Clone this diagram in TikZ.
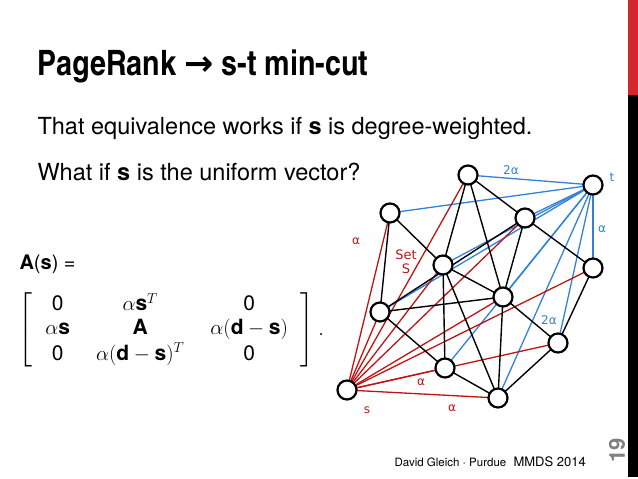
\documentclass[tikz,border=0pt]{standalone}
\usepackage{amsmath}
\usepackage{fontspec}
\setmainfont{TeX Gyre Heros}
\newfontfamily\titlefont{TeX Gyre Heros Cn}
\newfontfamily\dejavu{DejaVu Sans}
\begin{document}
\begin{tikzpicture}[x=1pt,y=-1pt,
  vtx/.style={circle,draw=black,line width=2.2pt,fill=white,minimum size=19pt,inner sep=0pt},
  bl/.style={black,line width=1.4pt},
  bu/.style={color={rgb,255:red,50;green,130;blue,220},line width=1.3pt},
  rd/.style={color={rgb,255:red,190;green,20;blue,20},line width=1.3pt},
  lbu/.style={text={rgb,255:red,50;green,130;blue,220},font=\fontsize{12}{12}\dejavu},
  lrd/.style={text={rgb,255:red,190;green,20;blue,20},font=\fontsize{12}{12}\dejavu}]
\useasboundingbox (0,0) rectangle (638,479);
\fill[color={rgb,255:red,210;green,40;blue,45}] (628,0) rectangle (638,95);
\fill[black] (628,95) rectangle (638,477);
\node[anchor=west,font=\fontsize{35}{35}\titlefont\bfseries] (title) at (34,66) {PageRank {\dejavu\bfseries →} s-t min-cut};
\node[anchor=west,font=\fontsize{23.5}{24}\selectfont] (l1) at (34,128) {That equivalence works if \textbf{s} is degree-weighted.};
\node[anchor=west,font=\fontsize{23.5}{24}\selectfont] (l2) at (34,172) {What if \textbf{s} is the uniform vector?};
\node[anchor=west,font=\fontsize{20}{20}\selectfont] (as) at (16,264) {\textbf{A}(\textbf{s}) =};
\node[anchor=west,font=\fontsize{21}{21}\selectfont] (mat) at (15,330) {\setlength{\arraycolsep}{13pt}$\left[\begin{array}{ccc}\text{0} & \alpha\textbf{s}^T & \text{0}\\[2pt] \alpha\textbf{s} & \textbf{A} & \alpha(\textbf{d}-\textbf{s})\\[2pt] \text{0} & \alpha(\textbf{d}-\textbf{s})^T & \text{0}\end{array}\right].$};
\node[anchor=west,font=\fontsize{11.5}{12}\selectfont] (f1) at (391,462) {David Gleich $\cdot$ Purdue};
\node[anchor=west,font=\fontsize{13}{13}\selectfont] (f2) at (510,462) {MMDS 2014};
\node[rotate=90,text=gray,font=\fontsize{22}{22}\selectfont\bfseries] (pg) at (617,450) {19};
\coordinate (pt) at (593,185); \coordinate (pA) at (468,175); \coordinate (pB) at (390,213);
\coordinate (pC) at (525,218); \coordinate (pD) at (443,265); \coordinate (pE) at (593,268);
\coordinate (pF) at (380,312); \coordinate (pG) at (503,297); \coordinate (pH) at (558,343);
\coordinate (pI) at (445,368); \coordinate (pJ) at (498,398); \coordinate (ps) at (347,390);
\foreach \v in {A,B,C,D,E,F,G,H,I,J} \draw[bu] (pt) -- (p\v);
\foreach \v in {A,B,C,D,E,F,G,H,I,J} \draw[rd] (ps) -- (p\v);
\foreach \a/\b in {A/D,A/G,A/C,B/D,B/F,F/C,F/G,F/I,C/G,C/E,D/G,D/I,D/J,G/J,G/H,E/H,H/J,I/J}
  \draw[bl] (p\a) -- (p\b);
\foreach \v in {t,A,B,C,D,E,F,G,H,I,J,s} \node[vtx] (\v) at (p\v) {};
\node[lbu] (l2a) at (511,170) {2α};
\node[lbu] (lt) at (612,177) {t};
\node[lbu] (la) at (602,229) {α};
\node[lbu] (l2b) at (549,320) {2α};
\node[lrd] (lar) at (356,241) {α};
\node[lrd,align=center,font=\fontsize{13}{14}\dejavu] (set) at (406,262) {Set\\S};
\node[lrd] (ls) at (367,410) {s};
\node[lrd] (la1) at (421,382) {α};
\node[lrd] (la2) at (452,408) {α};
\end{tikzpicture}
\end{document}
